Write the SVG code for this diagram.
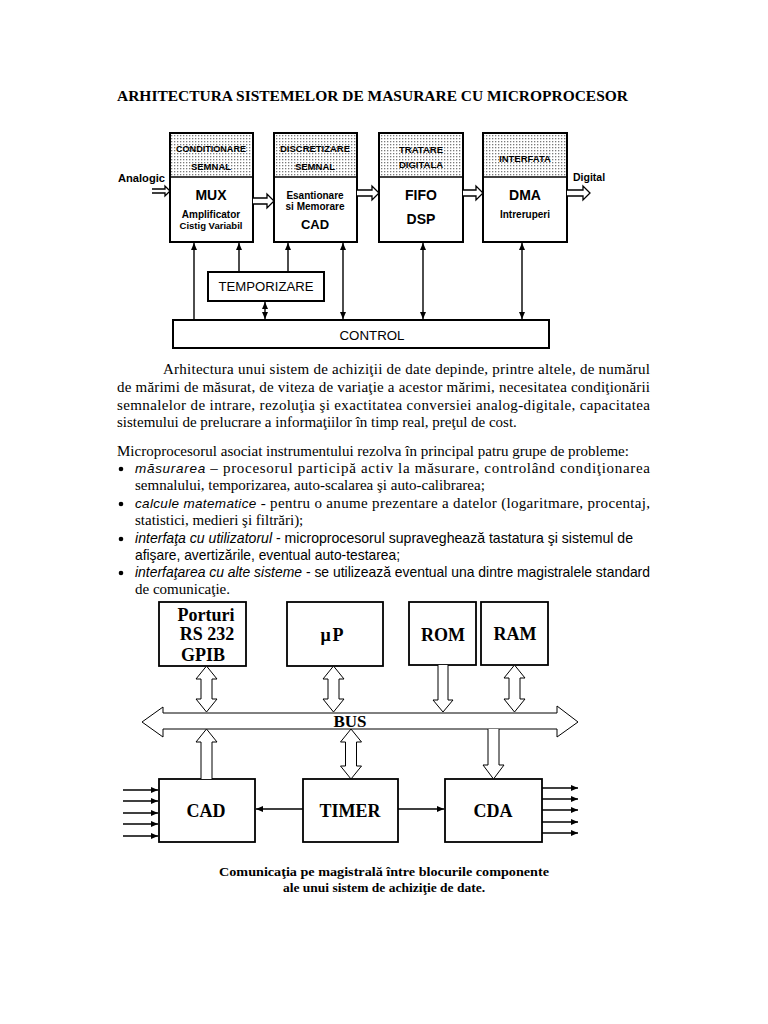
<svg xmlns="http://www.w3.org/2000/svg" width="768" height="1024" viewBox="0 0 768 1024">
<defs>
<pattern id="dots" width="3" height="3" patternUnits="userSpaceOnUse"><rect width="3" height="3" fill="#fff"/><rect width="1.3" height="1.3" fill="#7a7a7a"/></pattern>
<marker id="ah" markerWidth="8" markerHeight="8" refX="7" refY="4" orient="auto-start-reverse" markerUnits="userSpaceOnUse"><path d="M0,1 L7,4 L0,7 Z" fill="#000"/></marker>
<style>
.box{fill:#fff;stroke:#000;stroke-width:2}
.hdr{fill:url(#dots);stroke:none}
.ln{fill:none;stroke:#000;stroke-width:1.4}
.ha{fill:#fff;stroke:#000;stroke-width:1.3}
.ba{fill:#fff;stroke:#000;stroke-width:1}
.bb{fill:#fff;stroke:#000;stroke-width:1.8}
.s{font-family:"Liberation Sans",Arial,sans-serif;font-weight:bold;fill:#000}
.h{font-size:9.5px;text-anchor:middle}
.t{font-family:"Liberation Serif","Times New Roman",serif;font-size:15px;fill:#000}
.si{font-family:"Liberation Sans",Arial,sans-serif;font-style:italic}
.sn{font-family:"Liberation Sans",Arial,sans-serif}
.b{font-family:"Liberation Serif","Times New Roman",serif;font-weight:bold;fill:#000}
.bt{font-size:18px;text-anchor:middle}
</style>
</defs>
<rect width="768" height="1024" fill="#fff"/>

<text class="b" x="117" y="101" font-size="15" textLength="511" lengthAdjust="spacingAndGlyphs">ARHITECTURA SISTEMELOR DE MASURARE CU MICROPROCESOR</text>

<!-- top diagram -->
<g id="box-mux">
<rect class="box" x="170" y="133" width="83" height="109"/>
<rect class="hdr" x="171" y="134" width="81" height="43"/>
<line class="ln" x1="170" y1="177" x2="253" y2="177" stroke-width="2"/>
<text class="s h" x="211" y="152" textLength="70" lengthAdjust="spacingAndGlyphs">CONDITIONARE</text>
<text class="s h" x="211" y="170">SEMNAL</text>
<text class="s" x="211" y="200" font-size="14" text-anchor="middle">MUX</text>
<text class="s" x="211" y="218" font-size="10" text-anchor="middle">Amplificator</text>
<text class="s" x="211" y="229" font-size="9.5" text-anchor="middle">Cistig Variabil</text>
</g>
<g id="box-cad1">
<rect class="box" x="274" y="133" width="83" height="109"/>
<rect class="hdr" x="275" y="134" width="81" height="43"/>
<line class="ln" x1="274" y1="177" x2="357" y2="177" stroke-width="2"/>
<text class="s h" x="315" y="152" textLength="70" lengthAdjust="spacingAndGlyphs">DISCRETIZARE</text>
<text class="s h" x="315" y="170">SEMNAL</text>
<text class="s" x="315" y="199" font-size="10" text-anchor="middle">Esantionare</text>
<text class="s" x="315" y="210" font-size="10" text-anchor="middle">si Memorare</text>
<text class="s" x="315" y="229" font-size="13" text-anchor="middle">CAD</text>
</g>
<g id="box-fifo">
<rect class="box" x="379" y="133" width="84" height="109"/>
<rect class="hdr" x="380" y="134" width="82" height="43"/>
<line class="ln" x1="379" y1="177" x2="463" y2="177" stroke-width="2"/>
<text class="s h" x="421" y="153">TRATARE</text>
<text class="s h" x="421" y="168">DIGITALA</text>
<text class="s" x="421" y="200" font-size="14" text-anchor="middle">FIFO</text>
<text class="s" x="421" y="224" font-size="14" text-anchor="middle">DSP</text>
</g>
<g id="box-dma">
<rect class="box" x="483" y="133" width="84" height="109"/>
<rect class="hdr" x="484" y="134" width="82" height="43"/>
<line class="ln" x1="483" y1="177" x2="567" y2="177" stroke-width="2"/>
<text class="s h" x="525" y="162">INTERFATA</text>
<text class="s" x="525" y="200" font-size="14" text-anchor="middle">DMA</text>
<text class="s" x="525" y="218" font-size="10" text-anchor="middle">Intreruperi</text>
</g>
<g id="box-temporizare">
<rect class="box" x="208" y="272" width="116" height="29"/>
<text class="s" x="266" y="291" font-size="12.5" text-anchor="middle" textLength="95" lengthAdjust="spacingAndGlyphs" style="font-weight:normal">TEMPORIZARE</text>
</g>
<g id="box-control">
<rect class="box" x="173" y="320" width="376" height="28"/>
<text class="s" x="372" y="340" font-size="13" text-anchor="middle" textLength="65" lengthAdjust="spacingAndGlyphs" style="font-weight:normal">CONTROL</text>
</g>
<text class="s" x="118" y="182" font-size="11" textLength="47" lengthAdjust="spacingAndGlyphs">Analogic</text>
<text class="s" x="573" y="181" font-size="10.5">Digital</text>

<g id="connectors-top">
<path class="ha" d="M152,189 H165 V186 L170,191 L165,196 V193 H152"/>
<path class="ha" d="M253,198 H267 V194 L274,201 L267,208 V204 H253"/>
<path class="ha" d="M357,190 H372 V186 L379,193 L372,200 V196 H357"/>
<path class="ha" d="M463,190 H476 V186 L483,193 L476,200 V196 H463"/>
<path class="ha" d="M567,190 H583 V186 L590,193 L583,200 V196 H567"/>
<line class="ln" x1="194" y1="320" x2="194" y2="243" marker-end="url(#ah)"/>
<line class="ln" x1="239" y1="272" x2="239" y2="243" marker-end="url(#ah)"/>
<line class="ln" x1="288" y1="272" x2="288" y2="243" marker-end="url(#ah)"/>
<line class="ln" x1="343" y1="319" x2="343" y2="243" marker-start="url(#ah)" marker-end="url(#ah)"/>
<line class="ln" x1="423" y1="319" x2="423" y2="243" marker-start="url(#ah)" marker-end="url(#ah)"/>
<line class="ln" x1="522" y1="319" x2="522" y2="243" marker-start="url(#ah)" marker-end="url(#ah)"/>
<line class="ln" x1="265" y1="319" x2="265" y2="302" marker-start="url(#ah)" marker-end="url(#ah)"/>
</g>

<!-- paragraphs -->
<text class="t" x="163" y="374" textLength="487" lengthAdjust="spacing">Arhitectura unui sistem de achiziţii de date depinde, printre altele, de numărul</text>
<text class="t" x="117" y="392" textLength="533" lengthAdjust="spacing">de mărimi de măsurat, de viteza de variaţie a acestor mărimi, necesitatea condiţionării</text>
<text class="t" x="117" y="410" textLength="533" lengthAdjust="spacing">semnalelor de intrare, rezoluţia şi exactitatea conversiei analog-digitale, capacitatea</text>
<text class="t" x="117" y="427">sistemului de prelucrare a informaţiilor în timp real, preţul de cost.</text>
<text class="t" x="117" y="456">Microprocesorul asociat instrumentului rezolva în principal patru grupe de probleme:</text>

<circle cx="121" cy="469" r="2.3"/>
<circle cx="121" cy="504" r="2.3"/>
<circle cx="121" cy="539" r="2.3"/>
<circle cx="121" cy="573" r="2.3"/>
<text class="t" x="135" y="473" textLength="515" lengthAdjust="spacing"><tspan class="si" font-size="13.5">măsurarea</tspan> – procesorul participă activ la măsurare, controlând condiţionarea</text>
<text class="t" x="135" y="490">semnalului, temporizarea, auto-scalarea şi auto-calibrarea;</text>
<text class="t" x="135" y="508" textLength="515" lengthAdjust="spacing"><tspan class="si" font-size="13.5">calcule matematice</tspan> - pentru o anume prezentare a datelor (logaritmare, procentaj,</text>
<text class="t" x="135" y="525">statistici, medieri şi filtrări);</text>
<text class="t sn" x="135" y="543" font-size="13.5" textLength="498" lengthAdjust="spacingAndGlyphs"><tspan class="si">interfaţa cu utilizatorul</tspan> - microprocesorul supraveghează tastatura şi sistemul de</text>
<text class="t sn" x="135" y="560" font-size="13.5" textLength="265" lengthAdjust="spacingAndGlyphs">afişare, avertizările, eventual auto-testarea;</text>
<text class="t sn" x="135" y="577" font-size="13.5" textLength="515" lengthAdjust="spacingAndGlyphs"><tspan class="si">interfaţarea cu alte sisteme</tspan> - se utilizează eventual una dintre magistralele standard</text>
<text class="t" x="135" y="594">de comunicaţie.</text>

<!-- bottom diagram -->
<g id="box-porturi">
<rect class="bb" x="159" y="602" width="87" height="64"/>
<text class="b bt" x="206" y="621">Porturi</text>
<text class="b bt" x="207" y="640">RS 232</text>
<text class="b bt" x="203" y="661">GPIB</text>
</g>
<g id="box-up">
<rect class="bb" x="287" y="602" width="96" height="64"/>
<text class="b bt" x="333" y="641" letter-spacing="2">μP</text>
</g>
<g id="box-rom">
<rect class="bb" x="409" y="602" width="67" height="63"/>
<text class="b bt" x="443" y="641">ROM</text>
</g>
<g id="box-ram">
<rect class="bb" x="481" y="602" width="67" height="63"/>
<text class="b bt" x="515" y="640">RAM</text>
</g>
<g id="box-cad">
<rect class="bb" x="159" y="779" width="96" height="63"/>
<text class="b bt" x="206" y="817">CAD</text>
</g>
<g id="box-timer">
<rect class="bb" x="303" y="779" width="95" height="63"/>
<text class="b bt" x="350" y="817">TIMER</text>
</g>
<g id="box-cda">
<rect class="bb" x="445" y="779" width="97" height="63"/>
<text class="b bt" x="493" y="817">CDA</text>
</g>

<g id="connectors-bottom">
<path class="ba" d="M163,713 H557 V706 L578,722 L557,737 V729 H163 V737 L142,722 L163,707 Z" stroke-width="1.2"/>
<path class="ba" d="M206.5,666 L217,679 H212 V699 H217 L206.5,712 L196,699 H201 V679 H196 Z"/>
<path class="ba" d="M333.5,666 L344,679 H339 V699 H344 L333.5,712 L323,699 H328 V679 H323 Z"/>
<path class="ba" d="M514.5,665 L525,678 H520 V699 H525 L514.5,712 L504,699 H509 V678 H504 Z"/>
<path class="ba" d="M438,665 V700 H433 L443,712 L453,700 H448 V665"/>
<path class="ba" d="M201,779 V742 H196 L206.5,729 L217,742 H212 V779"/>
<path class="ba" d="M351,729 L361.5,742 H356.5 V766 H361.5 L351,779 L340.5,766 H345.5 V742 H340.5 Z"/>
<path class="ba" d="M488,729 V765 H483 L493.5,779 L504,765 H499 V729"/>
<line class="ln" x1="303" y1="809" x2="256" y2="809" marker-end="url(#ah)"/>
<line class="ln" x1="398" y1="809" x2="444" y2="809" marker-end="url(#ah)"/>
<line class="ln" x1="123" y1="790" x2="158" y2="790" marker-end="url(#ah)"/>
<line class="ln" x1="123" y1="801" x2="158" y2="801" marker-end="url(#ah)"/>
<line class="ln" x1="123" y1="813" x2="158" y2="813" marker-end="url(#ah)"/>
<line class="ln" x1="123" y1="824" x2="158" y2="824" marker-end="url(#ah)"/>
<line class="ln" x1="123" y1="836" x2="158" y2="836" marker-end="url(#ah)"/>
<line class="ln" x1="542" y1="788" x2="578" y2="788" marker-end="url(#ah)"/>
<line class="ln" x1="542" y1="799" x2="578" y2="799" marker-end="url(#ah)"/>
<line class="ln" x1="542" y1="810" x2="578" y2="810" marker-end="url(#ah)"/>
<line class="ln" x1="542" y1="822" x2="578" y2="822" marker-end="url(#ah)"/>
<line class="ln" x1="542" y1="833" x2="578" y2="833" marker-end="url(#ah)"/>
</g>
<text class="b" x="350" y="727" font-size="17" text-anchor="middle">BUS</text>

<text class="b" x="384" y="876" font-size="13.5" text-anchor="middle" textLength="330" lengthAdjust="spacingAndGlyphs">Comunicaţia pe magistrală între blocurile componente</text>
<text class="b" x="384" y="892" font-size="13.5" text-anchor="middle">ale unui sistem de achiziţie de date.</text>
</svg>
